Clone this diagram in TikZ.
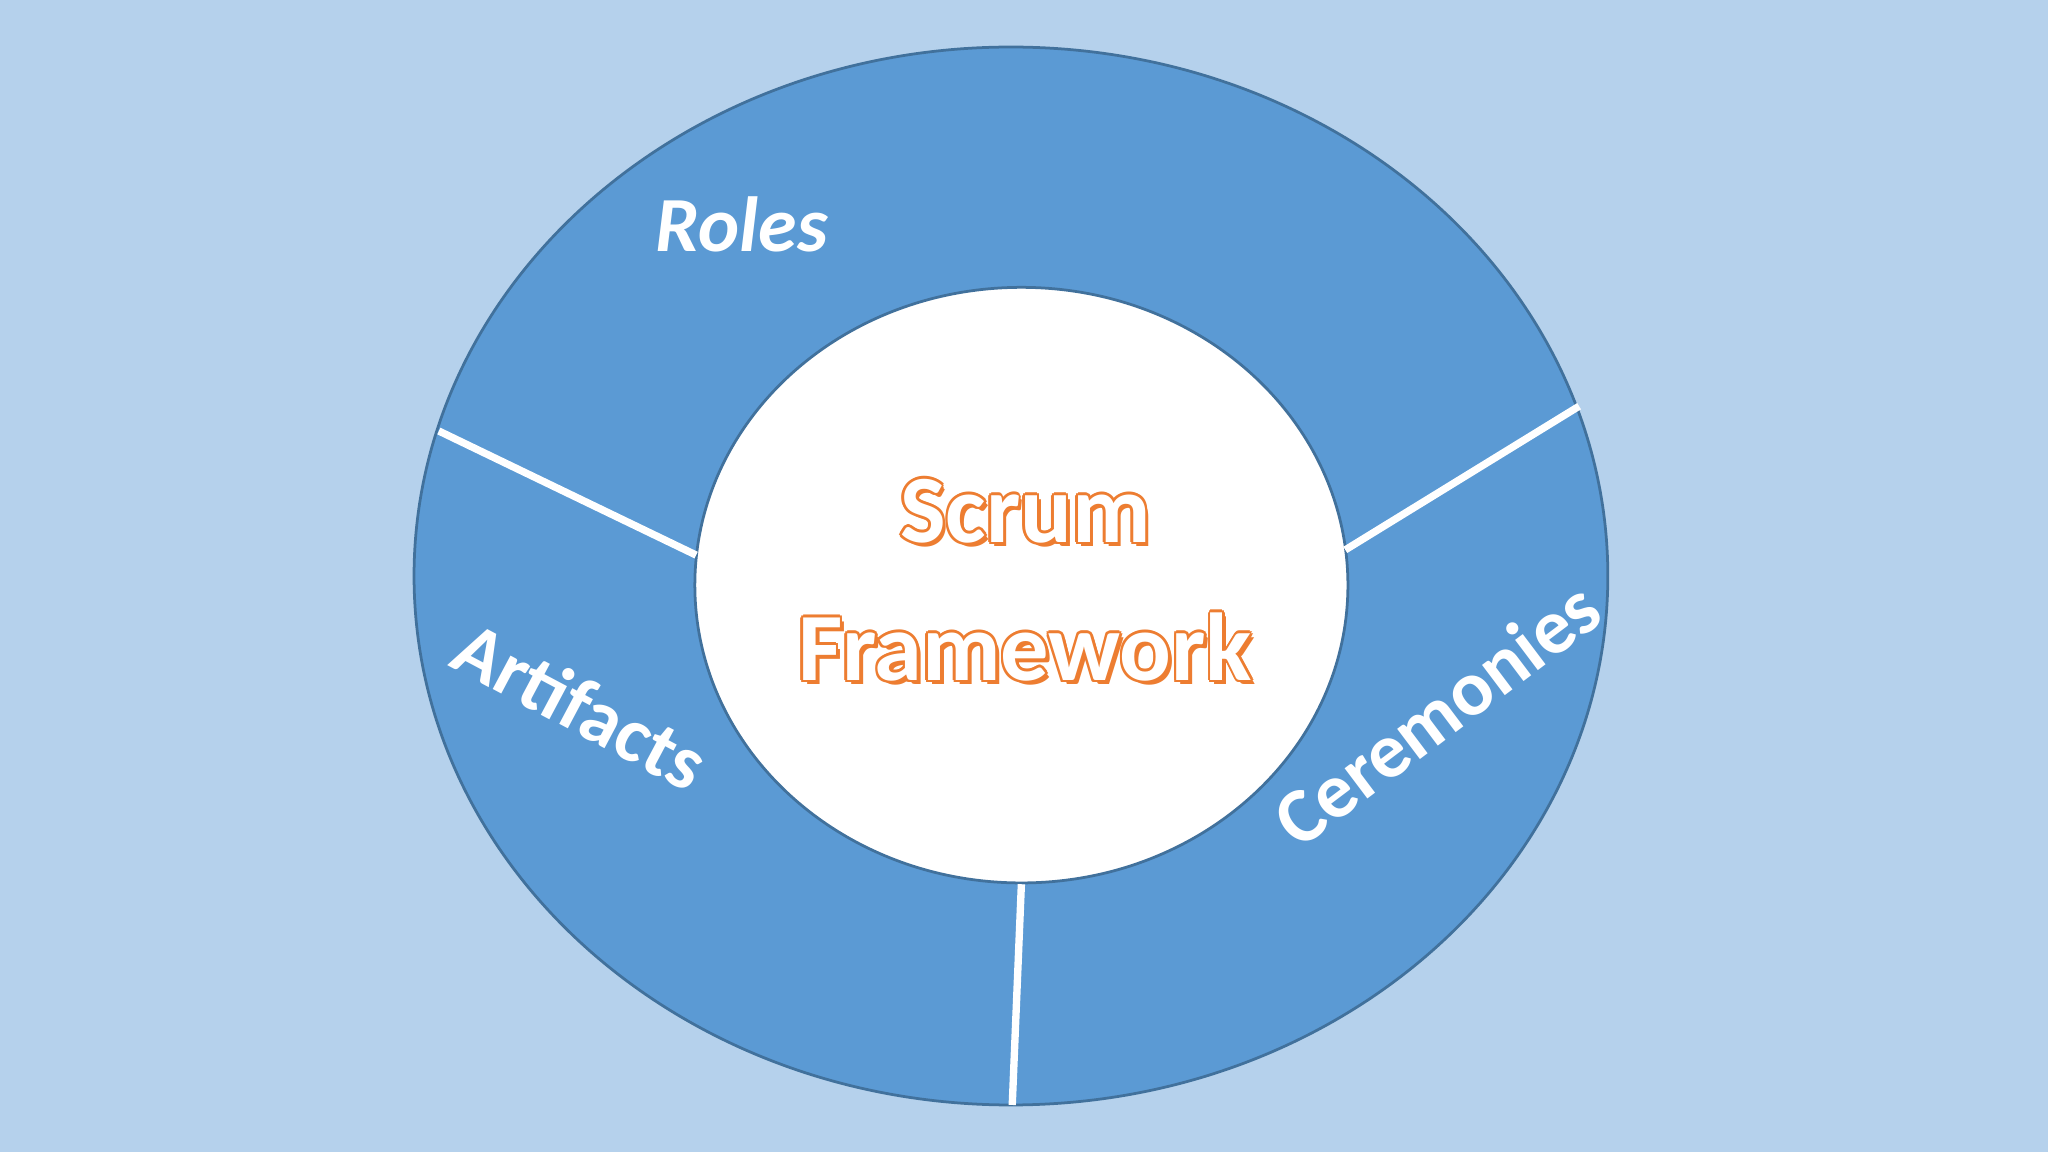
\documentclass[tikz,border=0pt]{standalone}
\usepackage{fontspec}
\setmainfont{Carlito}
\definecolor{bg}{HTML}{B5D1EC}
\definecolor{ring}{HTML}{5B9AD4}
\definecolor{ringedge}{HTML}{41719C}
\definecolor{scrum}{HTML}{ED7D31}
\begin{document}
\begin{tikzpicture}[x=0.01cm,y=-0.01cm,
  lbl/.style={text=white,font=\bfseries\fontsize{17pt}{20pt}\selectfont},
  sep/.style={white,line width=1.6pt},
  sft/.style={font=\bfseries\fontsize{21pt}{30pt}\selectfont,align=center}]
\fill[bg] (0,0) rectangle (1568,882);
\useasboundingbox (0,0) rectangle (1568,882);
\fill[ring,draw=ringedge,line width=0.6pt] (774,441) ellipse (457 and 405);
\fill[white,draw=ringedge,line width=0.6pt] (782,448) ellipse (250 and 228);
\coordinate (a1) at (336,330); \coordinate (a2) at (533,425);
\coordinate (b1) at (1209,311); \coordinate (b2) at (1030,421);
\coordinate (c1) at (782,677); \coordinate (c2) at (775,846);
\draw[sep] (a1) -- (a2);
\draw[sep] (b1) -- (b2);
\draw[sep] (c1) -- (c2);
\node[lbl,font=\bfseries\itshape\fontsize{17pt}{20pt}\selectfont] (roles) at (568,172) {Roles};
\node[lbl,rotate=-28] (art) at (445,540) {Artifacts};
\node[lbl,rotate=37] (cer) at (1100,546) {Ceremonies};
\foreach \dx/\dy in {2/0,-2/0,0/2,0/-2,1.5/1.5,-1.5/1.5,1.5/-1.5,-1.5/-1.5,3/3}
  \node[sft,text=scrum] at (785+\dx,444+\dy) {Scrum\\Framework};
\node[sft,text=white] (sf) at (785,444) {Scrum\\Framework};
\end{tikzpicture}
\end{document}
